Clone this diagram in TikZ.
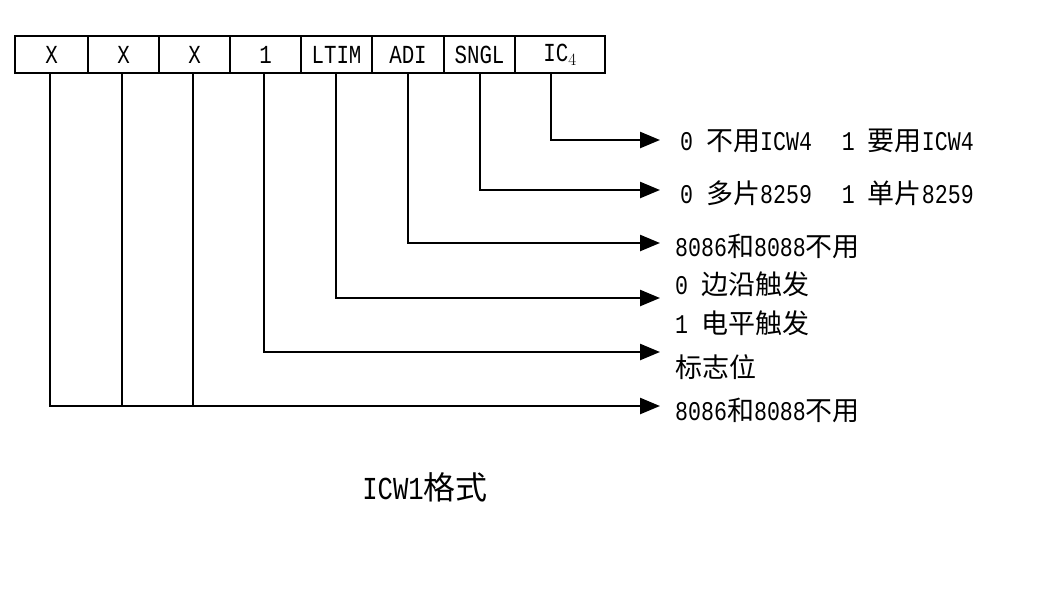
\documentclass[tikz,border=0pt]{standalone}
\usepackage{fontspec}
\setmainfont{Liberation Mono}[FakeStretch=0.8]
\newfontfamily\cjk{Noto Sans CJK SC}
\usetikzlibrary{arrows.meta}
\begin{document}
\begin{tikzpicture}[x=1pt,y=-1pt,
  cell/.style={draw,line width=2pt,minimum height=37pt,inner sep=0pt,anchor=north west,font=\fontsize{26}{28}\selectfont},
  lbl/.style={anchor=west,inner sep=0pt,font=\fontsize{27}{30}\selectfont},
  conn/.style={line width=2.5pt,-{Triangle[length=20pt,width=16pt]}}]
\useasboundingbox (0,0) rectangle (1062,592);
\node[cell,minimum width=73pt] (c1) at (14,35) {X};
\node[cell,minimum width=71pt] (c2) at (87,35) {X};
\node[cell,minimum width=71pt] (c3) at (158,35) {X};
\node[cell,minimum width=71pt] (c4) at (229,35) {1};
\node[cell,minimum width=71pt] (c5) at (300,35) {LTIM};
\node[cell,minimum width=72pt] (c6) at (371,35) {ADI};
\node[cell,minimum width=71pt] (c7) at (443,35) {SNGL};
\node[cell,minimum width=90pt] (c8) at (514,35) {IC$_4$};
\coordinate (e1) at (660,140);
\coordinate (e2) at (660,190);
\coordinate (e3) at (660,243);
\coordinate (e4) at (660,298);
\coordinate (e5) at (660,352);
\coordinate (e6) at (660,406);
\node[lbl] (t1) at (680,141) {0 {\cjk 不用}ICW4\hspace{30pt}1 {\cjk 要用}ICW4};
\node[lbl] (t2) at (680,193) {0 {\cjk 多片}8259\hspace{30pt}1 {\cjk 单片}8259};
\node[lbl] (t3) at (675,246) {8086{\cjk 和}8088{\cjk 不用}};
\node[lbl] (t4) at (675,284) {0 {\cjk 边沿触发}};
\node[lbl] (t4b) at (675,323) {1 {\cjk 电平触发}};
\node[lbl] (t5) at (675,367) {\cjk 标志位};
\node[lbl] (t6) at (675,410) {8086{\cjk 和}8088{\cjk 不用}};
\node[font=\fontsize{32}{36}\selectfont] (cap) at (425,487) {ICW1{\cjk 格式}};
\draw[conn] (c8.south-|551,0) |- (e1);
\draw[conn] (c7.south-|480,0) |- (e2);
\draw[conn] (c6.south-|408,0) |- (e3);
\draw[conn] (c5.south-|336,0) |- (e4);
\draw[conn] (c4.south-|264,0) |- (e5);
\draw[conn] (c1.south-|50,0) |- (e6);
\draw[line width=2.5pt] (c2.south-|122,0) -- (122,406);
\draw[line width=2.5pt] (c3.south-|193,0) -- (193,406);
\end{tikzpicture}
\end{document}
